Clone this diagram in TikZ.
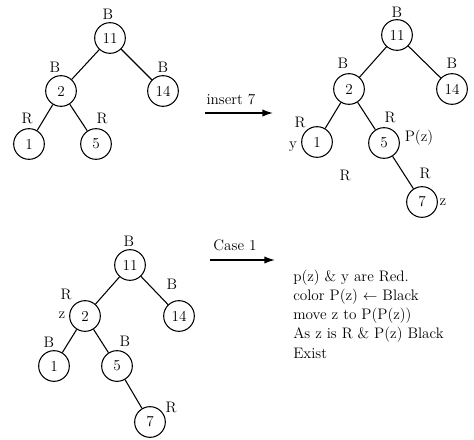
\documentclass[tikz,border=0pt]{standalone}
\usetikzlibrary{arrows.meta}
\begin{document}
\begin{tikzpicture}[x=0.75pt,y=-0.75pt,
  every node/.style={font=\fontsize{11.4pt}{14.25pt}\selectfont, inner sep=0pt},
  tnode/.style={circle, draw, line width=0.8pt, minimum size=23pt},
  lbl/.style={},
  edge/.style={line width=0.8pt},
  arr/.style={line width=1.1pt, -{Latex[length=8pt,width=5.5pt]}}]
\useasboundingbox (0,0) rectangle (474,439);
% Tree 1
\node[tnode] (a11) at (110,38) {11};
\node[tnode] (a2) at (61,91) {2};
\node[tnode] (a14) at (163,91) {14};
\node[tnode] (a1) at (29,144) {1};
\node[tnode] (a5) at (96,144) {5};
\draw[edge] (a11) -- (a2);
\draw[edge] (a11) -- (a14);
\draw[edge] (a2) -- (a1);
\draw[edge] (a2) -- (a5);
\node[lbl] (la11) at (108,14) {B};
\node[lbl] (la2) at (55,67) {B};
\node[lbl] (la14) at (163,67) {B};
\node[lbl] (la1) at (27,118) {R};
\node[lbl] (la5) at (102,118) {R};
% Arrow 1
\coordinate (s1) at (205,113);
\coordinate (e1) at (273,113);
\draw[arr] (s1) -- (e1);
\node (t1) at (231,100) {insert 7};
% Tree 2
\node[tnode] (b11) at (397,35) {11};
\node[tnode] (b2) at (349,89) {2};
\node[tnode] (b14) at (452,89) {14};
\node[tnode] (b1) at (317,142) {1};
\node[tnode] (b5) at (384,143) {5};
\node[tnode] (b7) at (422,202) {7};
\draw[edge] (b11) -- (b2);
\draw[edge] (b11) -- (b14);
\draw[edge] (b2) -- (b1);
\draw[edge] (b2) -- (b5);
\draw[edge] (b5) -- (b7);
\node[lbl] (lb11) at (397,12) {B};
\node[lbl] (lb2) at (343,63) {B};
\node[lbl] (lb14) at (452,63) {B};
\node[lbl] (lb1) at (300,122) {R};
\node[lbl] (ly) at (293,147) {y};
\node[lbl] (lb5) at (390,117) {R};
\node[lbl] (lpz) at (419,138) {P(z)};
\node[lbl] (lr) at (345,175) {R};
\node[lbl] (lb7) at (425,173) {R};
\node[lbl] (lz) at (443,202) {z};
% Arrow 2
\coordinate (s2) at (210,260);
\coordinate (e2) at (275,260);
\draw[arr] (s2) -- (e2);
\node (t2) at (235,245) {Case 1};
% Tree 3
\node[tnode] (c11) at (130,265) {11};
\node[tnode] (c2) at (85,316) {2};
\node[tnode] (c14) at (179,316) {14};
\node[tnode] (c1) at (54,366) {1};
\node[tnode] (c5) at (117,366) {5};
\node[tnode] (c7) at (150,422) {7};
\draw[edge] (c11) -- (c2);
\draw[edge] (c11) -- (c14);
\draw[edge] (c2) -- (c1);
\draw[edge] (c2) -- (c5);
\draw[edge] (c5) -- (c7);
\node[lbl] (lc11) at (129,241) {B};
\node[lbl] (lc2) at (66,294) {R};
\node[lbl] (lcz) at (62,315) {z};
\node[lbl] (lc14) at (172,284) {B};
\node[lbl] (lc1) at (49,342) {B};
\node[lbl] (lc5) at (125,341) {B};
\node[lbl] (lc7) at (171,407) {R};
% Text block
\node[anchor=west] (x1) at (293,278) {p(z) \& y are Red.};
\node[anchor=west] (x2) at (293,297) {color P(z) $\leftarrow$\ Black};
\node[anchor=west] (x3) at (293,316) {move z to P(P(z))};
\node[anchor=west] (x4) at (293,335) {As z is R \& P(z) Black};
\node[anchor=west] (x5) at (293,353) {Exist};
\end{tikzpicture}
\end{document}
